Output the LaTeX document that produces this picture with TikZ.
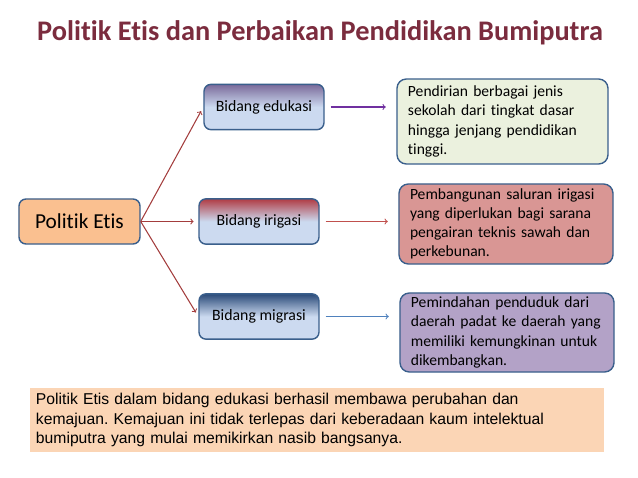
\documentclass[tikz,border=0pt]{standalone}
\usepackage{fontspec}
\setmainfont{Carlito}[Ligatures=NoCommon]
\newfontfamily\notefont{Liberation Sans}
\frenchspacing

\definecolor{titlered}{HTML}{7B2C3E}
\definecolor{edgeblue}{HTML}{3A5F8C}
\definecolor{etisfill}{HTML}{FAC090}
\definecolor{boxlight}{HTML}{CCDAF0}
\definecolor{edutop}{HTML}{7A6A9A}
\definecolor{iritop}{HTML}{B03C44}
\definecolor{migtop}{HTML}{2A4A78}
\definecolor{fanred}{HTML}{A33D3D}
\definecolor{eduarrow}{HTML}{7030A0}
\definecolor{iriarrow}{HTML}{C0504D}
\definecolor{migarrow}{HTML}{4F81BD}
\definecolor{edufill}{HTML}{EBF1DE}
\definecolor{irifill}{HTML}{D99694}
\definecolor{migfill}{HTML}{B3A2C7}
\definecolor{notefill}{HTML}{FBD5B5}

% shadings for the three field boxes (dark band at the top)
\pgfdeclareverticalshading{edushade}{100bp}{color(0bp)=(boxlight); color(25bp)=(boxlight); color(50bp)=(boxlight); color(75bp)=(edutop); color(100bp)=(edutop)}
\pgfdeclareverticalshading{irishade}{100bp}{color(0bp)=(boxlight); color(25bp)=(boxlight); color(50bp)=(boxlight); color(75bp)=(iritop); color(100bp)=(iritop)}
\pgfdeclareverticalshading{migshade}{100bp}{color(0bp)=(boxlight); color(25bp)=(boxlight); color(50bp)=(boxlight); color(75bp)=(migtop); color(100bp)=(migtop)}

\begin{document}
\begin{tikzpicture}[x=0.03cm, y=-0.03cm,
  base/.style={draw=edgeblue, line width=1.2pt, rounded corners=6pt},
  etis/.style={base, fill=etisfill, minimum width=3.63cm, minimum height=1.35cm,
    font=\fontsize{18.2}{21}\selectfont},
  bidang/.style={base, minimum width=3.6cm, minimum height=1.36cm,
    font=\fontsize{13.5}{16}\selectfont},
  ket/.style={base, rounded corners=8pt, inner xsep=0.33cm, align=left,
    font=\fontsize{13.3}{16.4}\selectfont},
  fan/.style={->, fanred, line width=0.9pt, shorten >=4pt},
  link/.style={->, line width=0.9pt, shorten <=5pt, shorten >=9pt}]
\useasboundingbox (0,0) rectangle (638,478);

% Title
\node[font=\bfseries\fontsize{24.2}{28}\selectfont, text=titlered] (judul) at (320,33)
  {Politik Etis dan Perbaikan Pendidikan Bumiputra};

% Root and fields
\node[etis] (etis) at (79.5,221.5) {Politik Etis};
\node[bidang, shading=edushade] (edu) at (264,107) {Bidang edukasi};
\node[bidang, shading=irishade] (iri) at (259,221.5) {Bidang irigasi};
\node[bidang, shading=migshade] (mig) at (259,316.5) {Bidang migrasi};

% Descriptions
\node[ket, fill=edufill, text width=5.67cm, minimum height=2.55cm] (ketedu) at (502.5,121.5)
  {Pendirian berbagai jenis\\sekolah dari tingkat dasar\\hingga jenjang pendidikan\\tinggi.};
\node[ket, fill=irifill, text width=5.76cm, minimum height=2.4cm] (ketiri) at (506,224)
  {Pembangunan saluran irigasi\\yang diperlukan bagi sarana\\pengairan teknis sawah dan\\perkebunan.};
\node[ket, fill=migfill, text width=5.76cm, minimum height=2.37cm] (ketmig) at (507,332.5)
  {Pemindahan penduduk dari\\daerah padat ke daerah yang\\memiliki kemungkinan untuk\\dikembangkan.};

% Arrows
\draw[fan] (etis.east) -- (edu.west);
\draw[fan] (etis.east) -- (iri.west);
\draw[fan] (etis.east) -- (mig.west);
\draw[link, eduarrow] (edu.east) -- (edu.east -| ketedu.west);
\draw[link, iriarrow] (iri.east) -- (iri.east -| ketiri.west);
\draw[link, migarrow] (mig.east) -- (mig.east -| ketmig.west);

% Note
\node[fill=notefill, text width=16.86cm, inner xsep=0.18cm, minimum height=1.92cm, align=left,
  font=\notefont\fontsize{13.4}{17}\selectfont] (catatan) at (317,420)
  {Politik Etis dalam bidang edukasi berhasil membawa perubahan dan\\kemajuan. Kemajuan ini tidak terlepas dari keberadaan kaum intelektual\\bumiputra yang mulai memikirkan nasib bangsanya.};
\end{tikzpicture}
\end{document}
